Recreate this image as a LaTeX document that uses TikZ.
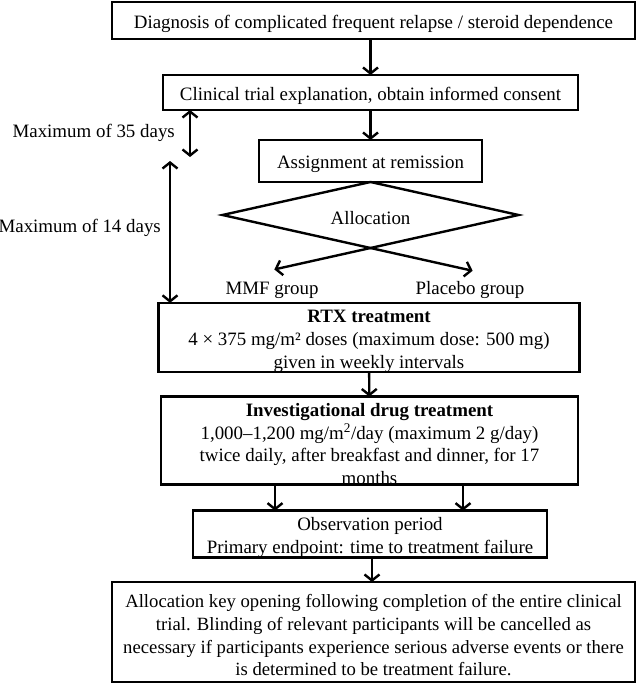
\documentclass[tikz,border=0pt]{standalone}
\usepackage{fontspec}
\setmainfont{Liberation Serif}
\usetikzlibrary{shapes.geometric, positioning, arrows.meta, calc}
\newcommand{\tallstrut}{\rule{0pt}{20pt}}

\begin{document}
\begin{tikzpicture}[x=1pt, y=-1pt, line width=2.4pt, >={Straight Barb[length=6pt, width=15pt]},
    lbl/.style={inner sep=0pt, align=center, font=\fontsize{18.9}{22.6}\selectfont},
    box/.style={lbl, draw, rectangle, outer sep=0pt}]
    \useasboundingbox (0,0) rectangle (641,685);

    \node[box, minimum width=523, minimum height=37] (diag) at (373.5,20.5) {\tallstrut Diagnosis of complicated frequent relapse / steroid dependence};
    \node[box, minimum width=415, minimum height=35] (clin) at (370.5,92.5) {\tallstrut Clinical trial explanation, obtain informed consent};
    \node[box, minimum width=223, minimum height=42] (assign) at (370.5,161) {\tallstrut Assignment at remission};
    \node[lbl, draw, diamond, shape aspect=4.5, outer sep=0pt, minimum width=296, minimum height=66, anchor=north] (alloc) at (assign.south) {\rule{0pt}{19pt}Allocation};
    \node[lbl] (mmf) at (272,290) {MMF group};
    \node[lbl] (placebo) at (470,290) {Placebo group};
    \node[box, minimum width=421, minimum height=65] (rtx) at (369,337.5) {\tallstrut\textbf{RTX treatment}\\4 × 375 mg/m² doses (maximum dose: 500 mg)\\given in weekly intervals};
    \node[box, minimum width=417, minimum height=87] (invest) at (369.5,440.5) {\tallstrut\textbf{Investigational drug treatment}\\1,000–1,200 mg/m\textsuperscript{2}/day (maximum 2 g/day)\\twice daily, after breakfast and dinner, for 17\\months};
    \node[box, minimum width=354, minimum height=42] (obs) at (370,534) {\tallstrut Observation period\\Primary endpoint: time to treatment failure};
    \node[box, minimum width=523, minimum height=100, font=\fontsize{18.7}{22.7}\selectfont] (final) at (373.5,632) {\tallstrut Allocation key opening following completion of the entire clinical\\trial. Blinding of relevant participants will be cancelled as\\necessary if participants experience serious adverse events or there\\is determined to be treatment failure.};

    % time windows on the left
    \node[lbl, anchor=east] (max35) at (176,133) {Maximum of 35 days};
    \node[lbl, anchor=east] (max14) at (162,228) {Maximum of 14 days};
    \coordinate (d35) at (190,157);
    \coordinate (d14) at (170,161);
    \draw[<->] (clin.south -| d35) -- (d35);
    \draw[<->] (d14) -- (rtx.north -| d14);

    \path[->]
    (diag.south -| clin) edge (clin)
    (clin) edge (assign)
    (alloc.south) edge ($(alloc.west)!1.69!(alloc.south)$)
    (alloc.south) edge ($(alloc.east)!1.65!(alloc.south)$)
    (rtx) edge (invest)
    ([xshift=-94.5pt]invest.south) edge ([xshift=-94.5pt]invest.south |- obs.north)
    ([xshift=93.5pt]invest.south) edge ([xshift=93.5pt]invest.south |- obs.north)
    (obs.south -| 372,0) edge (final.north -| 372,0);
\end{tikzpicture}
\end{document}
